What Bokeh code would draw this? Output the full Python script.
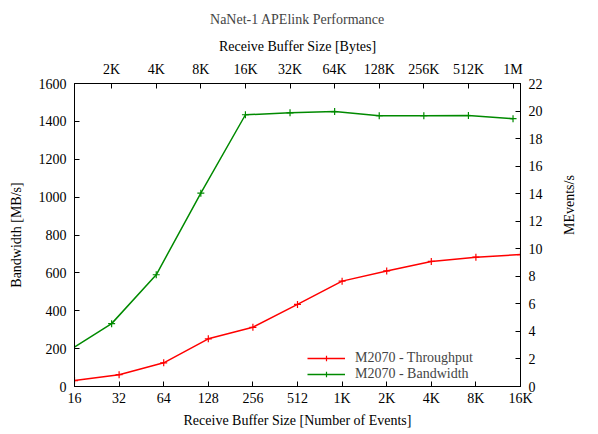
import math
from bokeh.plotting import figure
from bokeh.models import (LogAxis, LinearAxis, Range1d, FixedTicker, Legend,
                          LegendItem)
from bokeh.embed import file_html
from bokeh.resources import INLINE

# bottom axis: receive buffer size in events, red curve read on right axis
events = [16, 32, 64, 128, 256, 512, 1024, 2048, 4096, 8192, 16384]
event_labels = ["16", "32", "64", "128", "256", "512", "1K", "2K", "4K", "8K", "16K"]
throughput = [0.43, 0.86, 1.72, 3.46, 4.30, 5.96, 7.65, 8.39, 9.08, 9.39, 9.58]

# top axis: receive buffer size in bytes, green curve read on left axis
buf_bytes = [1024, 2048, 4096, 8192, 16384, 32768, 65536, 131072, 262144,
             524288, 1048576]
byte_labels = ["1K", "2K", "4K", "8K", "16K", "32K", "64K", "128K", "256K",
               "512K", "1M"]
bandwidth = [183, 332, 590, 1021, 1435, 1445, 1452, 1430, 1430, 1431, 1414]

FONT = "Liberation Serif"
FS = "14px"
RED = "#ff0000"
GREEN = "#008a00"

p = figure(width=590, height=430, x_axis_type="log",
           x_range=Range1d(16, 16384), y_range=Range1d(0, 1600),
           output_backend="svg", toolbar_location=None,
           min_border_left=74, min_border_right=70,
           min_border_top=79, min_border_bottom=44)
p.extra_x_ranges = {"bytes": Range1d(1150, 1150 * 1024)}
p.extra_y_ranges = {"mev": Range1d(0, 22)}

p.title.text = "NaNet-1 APElink Performance"
p.title.align = "center"
p.title.text_font = FONT
p.title.text_font_size = FS
p.title.text_font_style = "normal"
p.title.standoff = 18

p.xgrid.visible = False
p.ygrid.visible = False
p.outline_line_color = "black"
p.outline_line_width = 1

bottom = p.below[0]
left = p.left[0]

top = LogAxis(x_range_name="bytes", axis_label="Receive Buffer Size [Bytes]")
top.ticker = FixedTicker(ticks=buf_bytes[1:])
top.major_label_overrides = {b: l for b, l in zip(buf_bytes, byte_labels)}
p.add_layout(top, "above")

right = LinearAxis(y_range_name="mev", axis_label="MEvents/s")
right.ticker = FixedTicker(ticks=list(range(0, 23, 2)))
p.add_layout(right, "right")
# right axis title reads bottom to top, as on the left
if "axis_label_orientation" in right.properties():
    right.axis_label_orientation = math.pi / 2

bottom.ticker = FixedTicker(ticks=events)
bottom.major_label_overrides = {e: l for e, l in zip(events, event_labels)}
bottom.axis_label = "Receive Buffer Size [Number of Events]"
left.ticker = FixedTicker(ticks=list(range(0, 1601, 200)))
left.axis_label = "Bandwidth [MB/s]"

for ax in [bottom, left, top, right]:
    ax.major_tick_in = 5
    ax.major_tick_out = 0
    ax.minor_tick_line_color = None
    ax.axis_line_color = "black"
    ax.major_tick_line_color = "black"
    ax.major_label_text_font = FONT
    ax.major_label_text_font_size = FS
    ax.major_label_text_color = "black"
    ax.axis_label_text_font = FONT
    ax.axis_label_text_font_size = FS
    ax.axis_label_text_font_style = "normal"
    ax.axis_label_text_color = "black"
bottom.major_label_standoff = 4
bottom.axis_label_standoff = 4
top.major_label_standoff = 7
top.axis_label_standoff = 5
right.major_label_standoff = 8
right.axis_label_standoff = 24
left.major_label_standoff = 8
left.axis_label_standoff = 12

r1 = p.line(events, throughput, color=RED, line_width=1.5, y_range_name="mev")
m1 = p.scatter(events, throughput, marker="cross", size=7, color=RED,
               line_width=1.2, y_range_name="mev")
r2 = p.line(buf_bytes, bandwidth, color=GREEN, line_width=1.5,
            x_range_name="bytes")
m2 = p.scatter(buf_bytes, bandwidth, marker="cross", size=7, color=GREEN,
               line_width=1.2, x_range_name="bytes")

legend = Legend(items=[
    LegendItem(label="M2070 - Throughput", renderers=[r1, m1]),
    LegendItem(label="M2070 - Bandwidth", renderers=[r2, m2]),
], location=(233, 4))
legend.background_fill_alpha = 0
legend.border_line_color = None
legend.padding = 0
legend.margin = 0
legend.spacing = 0
legend.glyph_width = 38
legend.glyph_height = 14
legend.label_height = 14
legend.label_standoff = 10
legend.label_text_font = FONT
legend.label_text_font_size = FS
p.add_layout(legend, "center")

open("out.html", "w").write(file_html(p, INLINE))
